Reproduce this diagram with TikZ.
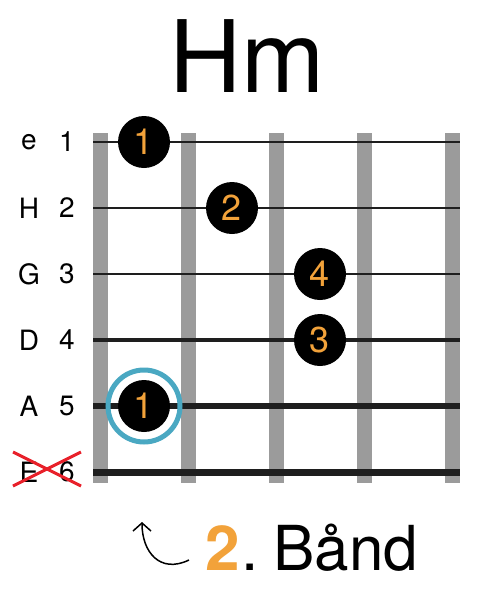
\documentclass[tikz,border=0pt]{standalone}
\usepackage{fontspec}
\setmainfont{TeX Gyre Heros}
\usetikzlibrary{arrows.meta}
\definecolor{fretgray}{RGB}{155,155,155}
\definecolor{dotorange}{RGB}{242,162,58}
\definecolor{ringblue}{RGB}{74,168,194}
\definecolor{xred}{RGB}{232,32,42}
\definecolor{strcol}{RGB}{30,30,30}
\tikzset{
  fretbar/.style={fill=fretgray, draw=none},
  gstring/.style={draw=strcol, line cap=butt},
  lbl/.style={font=\fontsize{28}{30}\selectfont, text=black, inner sep=0pt},
  fingerdot/.style={circle, fill=black, minimum size=52pt, inner sep=0pt, text=dotorange, font=\fontsize{36}{38}\selectfont},
  ring/.style={circle, draw=ringblue, line width=5pt, minimum size=72pt, inner sep=0pt},
  bottomtxt/.style={anchor=base west, inner sep=0pt, font=\fontsize{62}{62}\selectfont},
}
\begin{document}
\begin{tikzpicture}[x=1pt,y=-1pt]
\useasboundingbox (0,0) rectangle (480,592);
% title
\node[anchor=base, inner sep=0pt, font=\fontsize{100}{100}\selectfont] (title) at (247,92) {Hm};
% frets
\foreach \i/\x in {1/100,2/188,3/276,4/364,5/452}{
  \fill[fretbar] (\x-7.5,133) rectangle (\x+7.5,483);
  \coordinate (f\i) at (\x,0);
}
% strings
\foreach \n/\y/\w in {1/142/2,2/208/2,3/274/2.6,4/340/3.8,5/406/6,6/472/7}{
  \coordinate (sl\n) at (93,\y);
  \coordinate (sr\n) at (460,\y);
  \draw[gstring, line width=\w pt] (sl\n) -- (sr\n);
}
% labels
\foreach \n/\y/\s in {1/142/e,2/208/H,3/274/G,4/340/D,5/406/A,6/472/E}{
  \node[lbl, anchor=center] (ls\n) at (29,\y) {\s};
  \node[lbl, anchor=center] (ln\n) at (67,\y) {\n};
}
% red cross over E 6
\coordinate (xa) at (13,452);
\coordinate (xb) at (81,486);
\coordinate (xc) at (13,486);
\coordinate (xd) at (81,452);
\draw[xred, line width=3pt] (xa) -- (xb);
\draw[xred, line width=3pt] (xc) -- (xd);
% finger dots
\node[ring] (r5) at (144,406) {};
\node[fingerdot] (d1) at (144,142) {1};
\node[fingerdot] (d2) at (232,208) {2};
\node[fingerdot] (d3) at (320,274) {4};
\node[fingerdot] (d4) at (320,340) {3};
\node[fingerdot] (d5) at (144,406) {1};
% bottom label
\node[bottomtxt, text=dotorange, font=\fontsize{62}{62}\selectfont\bfseries] (two) at (205,570) {2};
\node[bottomtxt] (dot) at (241,570) {.};
\node[bottomtxt] (band) at (273,570) {Bånd};
% arrow
\coordinate (as) at (189,560);
\coordinate (ae) at (142,522);
\draw[line width=1.5pt, -{Straight Barb[length=8pt,width=18pt]}] (as) .. controls (160,574) and (142,552) .. (ae);
\end{tikzpicture}
\end{document}
